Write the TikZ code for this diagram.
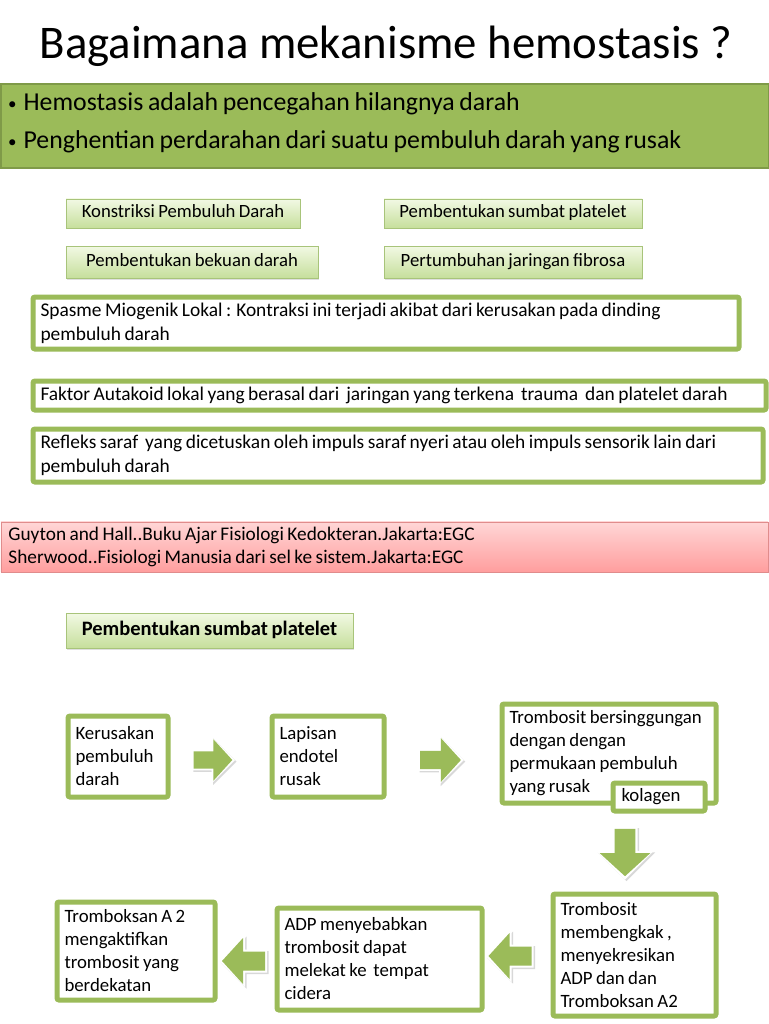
\documentclass[tikz,border=0pt]{standalone}
\usepackage{fontspec}
\setmainfont{Carlito}[WordSpace=0.8]
\newfontfamily\titlefont{Carlito}
\usetikzlibrary{shadows,calc}
\definecolor{boxgreen}{HTML}{9BBB59}
\definecolor{bannerline}{HTML}{7F9A48}
\definecolor{sgtop}{HTML}{F2F9E4}
\definecolor{sgbot}{HTML}{C6DF9C}
\definecolor{sgline}{HTML}{A8C47A}
\definecolor{pktop}{HTML}{FFD6D6}
\definecolor{pkbot}{HTML}{FF9E9E}
\definecolor{pkline}{HTML}{E08C8C}
\tikzset{
  smallbox/.style={draw=sgline, line width=0.8pt, top color=sgtop, bottom color=sgbot,
    drop shadow={shadow xshift=1.2pt, shadow yshift=-1.5pt, opacity=0.25},
    inner sep=0pt, text height=13pt, text depth=4pt, font=\fontsize{18.7}{22}\selectfont},
  bigbox/.style={draw=boxgreen, line width=5pt, fill=white, rounded corners=2pt,
    inner xsep=7.5pt, inner ysep=0pt, align=flush left, anchor=north west,
    font=\fontsize{19.4}{24}\selectfont},
  flowbox/.style={draw=boxgreen, line width=5pt, fill=white, rounded corners=2pt,
    inner xsep=7.5pt, inner ysep=0pt, align=flush left, anchor=north west,
    font=\fontsize{18.8}{23}\selectfont},
  blockarrow/.pic={
    \fill[white, drop shadow={shadow xshift=1.5pt, shadow yshift=-1.5pt, opacity=0.3}]
      (-23,-11.5) -- (-1,-11.5) -- (-1,-26) -- (25,0) -- (-1,26) -- (-1,11.5) -- (-23,11.5) -- cycle;
    \fill[boxgreen] (-21,-9.5) -- (1,-9.5) -- (1,-23) -- (22,0) -- (1,23) -- (1,9.5) -- (-21,9.5) -- cycle;
  }
}
\newcommand{\smallbul}{{\fontsize{17}{17}\selectfont\raisebox{1pt}{\textbullet}}\hspace{7pt}}
\begin{document}
\begin{tikzpicture}[x=1pt,y=-1pt]
\useasboundingbox (0,0) rectangle (768,1024);
\fill[white] (0,0) rectangle (768,1024);

% title
\node[font=\titlefont\fontsize{46.8}{50}\selectfont, inner sep=0pt] (title) at (386,46) {Bagaimana mekanisme hemostasis ?};

% banner
\node[draw=bannerline, line width=1.2pt, fill=boxgreen, minimum width=767pt, minimum height=84pt,
  anchor=north west, inner sep=0pt] (banner) at (0.5,83.5) {};
\node[anchor=west, align=flush left, inner sep=0pt, font=\fontsize{25.8}{38}\selectfont] (bannertext) at (8,123)
  {\smallbul Hemostasis adalah pencegahan hilangnya darah\\
   \smallbul Penghentian perdarahan dari suatu pembuluh darah yang rusak};

% small boxes
\node[smallbox, minimum width=234pt, minimum height=29pt] (s1) at (183,213.5) {Konstriksi Pembuluh Darah};
\node[smallbox, minimum width=258pt, minimum height=29pt] (s2) at (513,213.5) {Pembentukan sumbat platelet};
\node[smallbox, minimum width=252pt, minimum height=32pt] (s3) at (192,262) {Pembentukan bekuan darah};
\node[smallbox, minimum width=258pt, minimum height=32pt] (s4) at (513,262) {Pertumbuhan jaringan fibrosa};

% big boxes
\node[bigbox, text width=691pt, minimum height=52pt] (ba) at (30.5,294.5)
  {Spasme Miogenik Lokal : Kontraksi ini terjadi akibat dari kerusakan pada dinding\\pembuluh darah};
\node[bigbox, text width=718pt, minimum height=29pt] (bb) at (30.5,378.5)
  {Faktor Autakoid lokal yang berasal dari\ \ jaringan yang terkena\ \ trauma\ \ dan platelet darah};
\node[bigbox, text width=715pt, minimum height=53pt] (bc) at (30.5,426.5)
  {Refleks saraf\ \ yang dicetuskan oleh impuls saraf nyeri atau oleh impuls sensorik lain dari\\pembuluh darah};

% references
\node[draw=pkline, line width=0.8pt, top color=pktop, bottom color=pkbot, anchor=north west,
  minimum width=767pt, minimum height=50pt, text width=752pt, inner xsep=7.5pt, inner ysep=0pt,
  align=flush left, font=\fontsize{19.3}{23}\selectfont] (ref) at (0.5,521.5)
  {Guyton and Hall..Buku Ajar Fisiologi Kedokteran.Jakarta:EGC\\Sherwood..Fisiologi Manusia dari sel ke sistem.Jakarta:EGC};

% subtitle
\node[smallbox, minimum width=287pt, minimum height=35pt, font=\fontsize{20.5}{22}\selectfont\bfseries] (sub) at (209.5,630.5)
  {Pembentukan sumbat platelet};

% flow
\node[flowbox, text width=85pt, minimum height=81pt] (f1) at (65.5,713.5) {Kerusakan\\pembuluh\\darah};
\node[flowbox, text width=97pt, minimum height=81pt] (f2) at (269.5,713.5) {Lapisan\\endotel\\rusak};
\node[flowbox, text width=199pt, minimum height=99pt] (f3) at (499.5,701.5)
  {Trombosit bersinggungan\\dengan dengan\\permukaan pembuluh\\yang rusak};
\node[flowbox, text width=75pt, minimum height=28pt, inner xsep=8.5pt] (kol) at (610.5,780.5) {kolagen};
\node[flowbox, text width=148pt, minimum height=122pt] (f4) at (550.5,891.5)
  {Trombosit\\membengkak ,\\menyekresikan\\ADP dan dan\\Tromboksan A2};
\node[flowbox, text width=190pt, minimum height=102pt] (f5) at (274.5,905.5)
  {ADP menyebabkan\\trombosit dapat\\melekat ke\ \ tempat\\cidera};
\node[flowbox, text width=143pt, minimum height=98pt] (f6) at (54.5,899.5)
  {Tromboksan A 2\\mengaktifkan\\trombosit yang\\berdekatan};

% block arrows
\pic[scale=0.9] at (212.5,760) {blockarrow};
\pic[scale=0.95] at (440,760) {blockarrow};
\pic[rotate=-90, scale=1.1] at (625,852) {blockarrow};
\pic[rotate=180] at (510.5,956) {blockarrow};
\pic[rotate=180] at (244,961) {blockarrow};
\end{tikzpicture}
\end{document}
